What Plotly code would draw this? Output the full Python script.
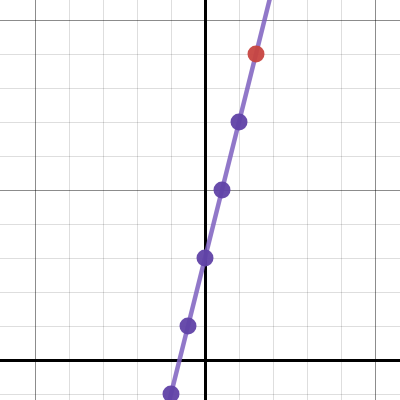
import plotly.graph_objects as go

# points of the table
pts_x = [-1, -0.5, 0, 0.5, 1]
pts_y = [-1, 1, 3, 5, 7]
red_x = [1.5]
red_y = [9]
# line y = 4x + 3 drawn across the view
line_x = [-1.5, 2.5]
line_y = [-3, 13]

fig = go.Figure()
fig.add_trace(go.Scatter(x=line_x, y=line_y, mode="lines",
                         line=dict(color="rgba(126,96,191,0.85)", width=4.5)))
fig.add_trace(go.Scatter(x=pts_x, y=pts_y, mode="markers",
                         marker=dict(color="rgba(96,66,166,0.95)", size=17)))
fig.add_trace(go.Scatter(x=red_x, y=red_y, mode="markers",
                         marker=dict(color="rgba(199,68,64,0.95)", size=17)))

axis = dict(showticklabels=False, zeroline=True, zerolinecolor="black", zerolinewidth=2.5,
            showgrid=True, gridcolor="rgba(0,0,0,0.45)", gridwidth=1, dtick=5,
            minor=dict(dtick=1, showgrid=True, gridcolor="rgba(0,0,0,0.13)", gridwidth=1),
            showline=False, fixedrange=True)
fig.update_xaxes(range=[-205/34, 195/34], **axis)
fig.update_yaxes(range=[-40/34, 360/34], **axis)
fig.update_layout(width=400, height=400, margin=dict(l=0, r=0, t=0, b=0),
                  showlegend=False, plot_bgcolor="white", paper_bgcolor="white")
fig.write_html("out.html", config={"displayModeBar": False},
               post_script="document.body.style.margin='0';document.body.style.overflow='hidden';")
